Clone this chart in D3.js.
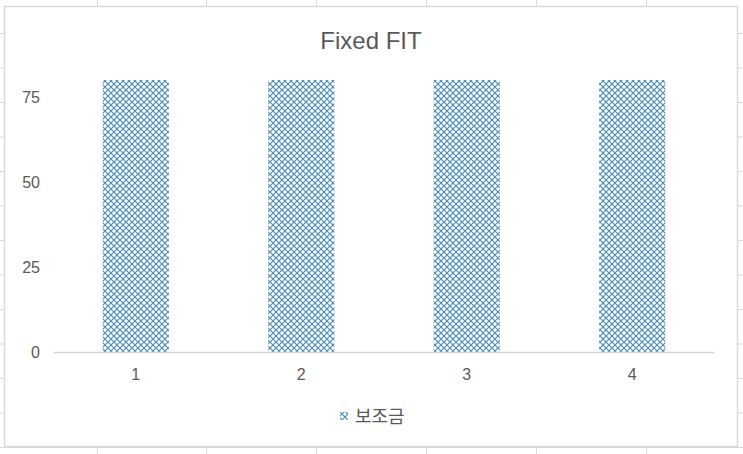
<!DOCTYPE html>
<html><head><meta charset="utf-8">
<script src="https://cdn.jsdelivr.net/npm/d3@7"></script>
<style>html,body{margin:0;padding:0;background:#fff;}svg{display:block;}</style>
</head><body>
<script>
const categories = ["1","2","3","4"];
const seriesName = "보조금";
const values = [80, 80, 80, 80];
const yTicks = [0, 25, 50, 75];
const title = "Fixed FIT";

const W = 743, H = 454;
const svg = d3.select("body").append("svg").attr("width", W).attr("height", H);

// spreadsheet grid behind
const gridX = [97, 206, 316, 426, 536, 646];
const gridY = d3.range(0, 16).map(i => -1.5 + i * 34.5);
const bg = svg.append("g").attr("stroke", "#dadada").attr("stroke-width", 1);
gridX.forEach(x => bg.append("line").attr("x1", x + .5).attr("x2", x + .5).attr("y1", 0).attr("y2", H));
gridY.forEach(y => bg.append("line").attr("x1", 0).attr("x2", W).attr("y1", y + .5).attr("y2", y + .5));

// chart area
svg.append("rect").attr("x", 4.5).attr("y", 6.5).attr("width", 733).attr("height", 440)
  .attr("fill", "#fff").attr("stroke", "#d9d9d9").attr("stroke-width", 1.5);

const defs = svg.append("defs");
const pat = defs.append("pattern").attr("id", "pat").attr("patternUnits", "userSpaceOnUse")
  .attr("width", 6).attr("height", 6);
pat.append("rect").attr("width", 6).attr("height", 6).attr("fill", "#fff");
pat.append("path").attr("d", "M0,0L6,6M6,0L0,6").attr("stroke", "#4a8cb4").attr("stroke-width", 1.2);

const x = d3.scaleBand().domain(categories).range([53, 715]).paddingInner(0.6).paddingOuter(0.3);
const y = d3.scaleLinear().domain([0, 90]).range([352, 46]);

svg.append("g").selectAll("rect").data(values).join("rect")
  .attr("x", (d, i) => x(categories[i])).attr("width", x.bandwidth())
  .attr("y", d => y(d)).attr("height", d => y(0) - y(d))
  .attr("fill", "url(#pat)");

// x axis line
const xAxis = svg.append("g").attr("transform", `translate(0,${y(0)})`)
  .call(d3.axisBottom(x).tickSize(0).tickPadding(17));
xAxis.select(".domain").attr("stroke", "#d9d9d9").attr("stroke-width", 1.3).attr("d", "M53,0.5H715");
xAxis.selectAll("text").attr("fill", "#595959").attr("font-family", "Liberation Sans, Arial, sans-serif").attr("font-size", 16);

const yAxis = svg.append("g").attr("transform", `translate(40,0)`)
  .call(d3.axisLeft(y).tickValues(yTicks).tickSize(0).tickPadding(0));
yAxis.select(".domain").remove();
yAxis.selectAll("text").attr("fill", "#595959").attr("font-family", "Liberation Sans, Arial, sans-serif").attr("font-size", 16);

svg.append("text").attr("x", 371).attr("y", 49).attr("text-anchor", "middle")
  .attr("fill", "#595959").attr("font-family", "Liberation Sans, Arial, sans-serif").attr("font-size", 24)
  .text(title);

// legend
svg.append("rect").attr("x", 340).attr("y", 412).attr("width", 8).attr("height", 8).attr("fill", "url(#pat)");
svg.append("text").attr("x", 355).attr("y", 423).attr("fill", "#595959")
  .attr("font-family", "Noto Sans CJK KR, sans-serif").attr("font-size", 18).text(seriesName);
</script>
</body></html>
